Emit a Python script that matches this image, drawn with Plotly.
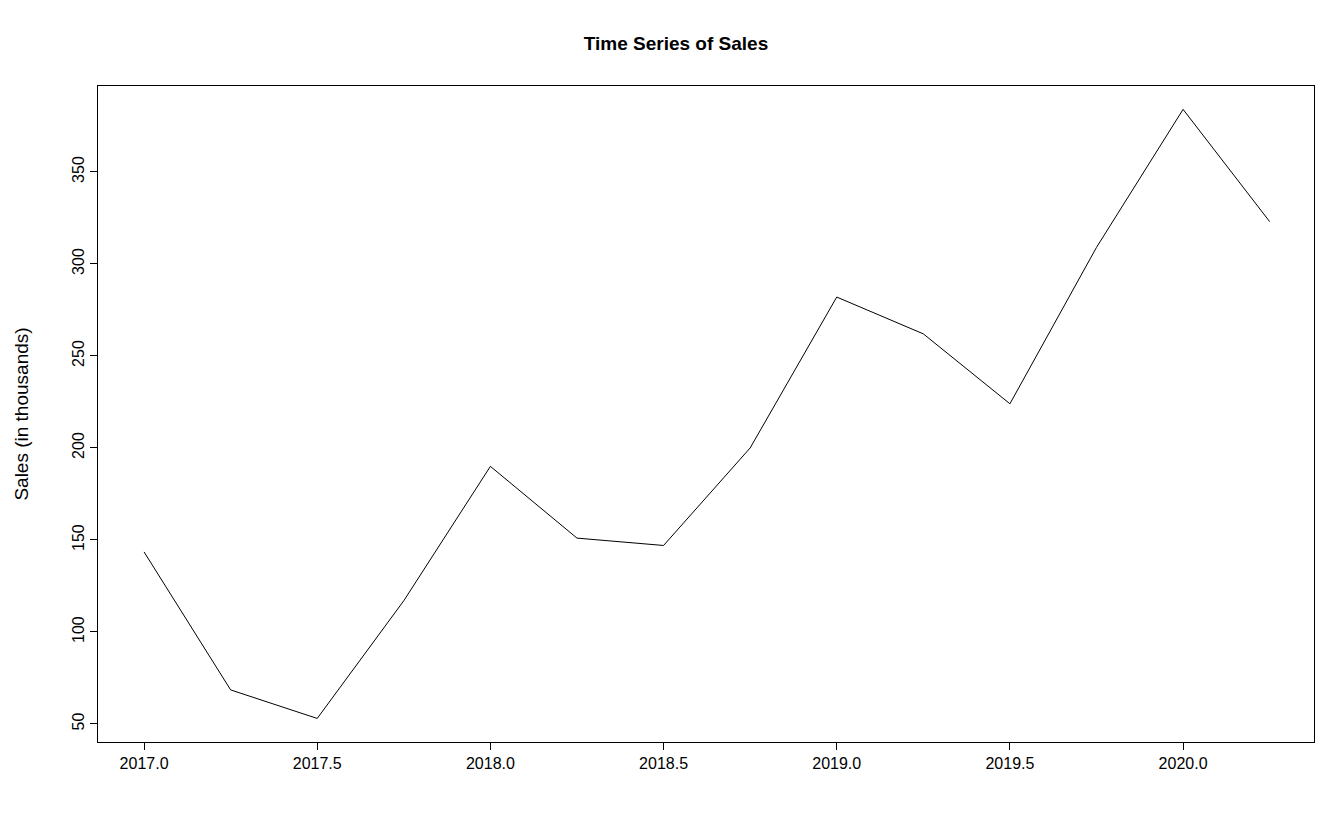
import plotly.graph_objects as go

time = [2017.0, 2017.25, 2017.5, 2017.75, 2018.0, 2018.25, 2018.5, 2018.75,
        2019.0, 2019.25, 2019.5, 2019.75, 2020.0, 2020.25]
sales = [143.5, 68.5, 53, 117, 190, 151, 147, 200, 282, 262, 224, 309, 384, 323]
xticks = [2017.0, 2017.5, 2018.0, 2018.5, 2019.0, 2019.5, 2020.0]
xlabels = ["2017.0", "2017.5", "2018.0", "2018.5", "2019.0", "2019.5", "2020.0"]
yticks = [50, 100, 150, 200, 250, 300, 350]

fig = go.Figure(go.Scatter(x=time, y=sales, mode="lines",
                           line=dict(color="black", width=1)))
font = dict(family="Liberation Sans, Arial, sans-serif", size=16, color="black")
fig.update_layout(
    width=1336, height=815, margin=dict(l=90, r=30, t=78, b=81),
    paper_bgcolor="white", plot_bgcolor="white", showlegend=False, font=font,
    title=dict(text="<b>Time Series of Sales</b>", x=0.5, xanchor="center",
               y=1 - 35/815, yanchor="middle", font=dict(size=19)),
    xaxis=dict(range=[2016.867, 2020.378], tickvals=xticks, ticktext=xlabels,
               showgrid=False, zeroline=False, showline=True, linecolor="black",
               mirror=True, ticks="outside", ticklen=7, tickcolor="black"),
    yaxis=dict(range=[40.2, 396.7], tickvals=yticks, tickangle=-90,
               showgrid=False, zeroline=False, showline=True, linecolor="black",
               mirror=True, ticks="outside", ticklen=7, tickcolor="black",
               title=dict(text="Sales (in thousands)", standoff=35)),
)
fig.write_html("out.html")
